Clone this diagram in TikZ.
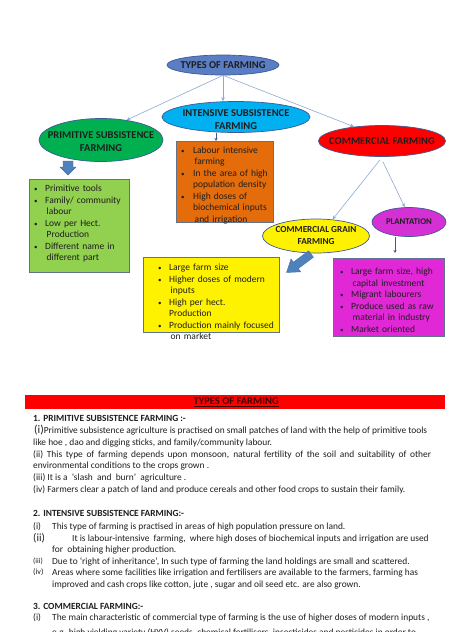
\documentclass[tikz,border=0pt]{standalone}
\usepackage{fontspec}
\setmainfont{Carlito}
\usetikzlibrary{shapes.geometric,arrows.meta}
\definecolor{typesblue}{RGB}{91,125,196}
\definecolor{cyanint}{RGB}{0,176,240}
\definecolor{primgreen}{RGB}{0,176,80}
\definecolor{lightgreen}{RGB}{146,208,80}
\definecolor{orangebox}{RGB}{228,108,10}
\definecolor{magentabox}{RGB}{224,40,214}
\definecolor{plantmag}{RGB}{212,48,212}
\definecolor{edgeblue}{RGB}{60,90,150}
\definecolor{boxedge}{RGB}{95,115,145}
\definecolor{linkblue}{RGB}{140,170,210}
\definecolor{arrowblue}{RGB}{79,129,189}
\definecolor{darktext}{RGB}{30,30,30}
\definecolor{bartext}{RGB}{60,0,0}
\newlength\bulind
\setlength\bulind{12pt}
\newcommand\bul[1]{\par\noindent\hangindent=\bulind\hangafter=1\makebox[\bulind][l]{\hspace*{1pt}{\fontsize{7}{7}\selectfont\textbullet}}#1}
\newcommand\cont{\newline\hspace*{1.5pt}}
\begin{document}
\begin{tikzpicture}[x=1pt,y=-1pt,
  ell/.style={ellipse, draw=edgeblue, line width=0.7pt, inner sep=0pt},
  elltext/.style={align=center, inner sep=0pt, text=darktext, font=\bfseries\fontsize{10.5}{13}\selectfont},
  boxshape/.style={draw=boxedge, line width=0.8pt, anchor=north west, inner sep=0pt},
  btext/.style={anchor=north west, inner sep=0pt, align=left, text=darktext, font=\fontsize{9.5}{11.5}\selectfont},
  link/.style={draw=linkblue, line width=0.6pt, -{Stealth[length=4pt,width=3.5pt]}},
  smalllink/.style={draw=edgeblue, line width=1pt, -{Stealth[length=3pt,width=3pt]}},
  blockarrow/.style={fill=arrowblue, draw=arrowblue!85!black, line width=0.4pt},
  body/.style={anchor=base west, inner sep=0pt, text=darktext, font=\fontsize{9.4}{11}\selectfont},
]
\useasboundingbox (0,0) rectangle (474,632);
\fill[white] (0,0) rectangle (474,632);

% ---------- ellipses ----------
\node[ell, fill=typesblue, minimum width=112pt, minimum height=20pt] (types) at (223,65) {};
\node[elltext] (typest) at (types.center) {TYPES OF FARMING};
\node[ell, fill=cyanint, minimum width=148pt, minimum height=31pt] (int) at (236,117) {};
\node[elltext] (intt) at ([yshift=-3pt]int.center) {INTENSIVE SUBSISTENCE\\FARMING};
\node[ell, fill=primgreen, minimum width=124pt, minimum height=43pt] (prim) at (101,140) {};
\node[elltext] (primt) at ([yshift=-1.5pt]prim.center) {PRIMITIVE SUBSISTENCE\\FARMING};
\node[ell, fill=red, minimum width=127pt, minimum height=31pt] (comm) at (382,141) {};
\node[elltext] (commt) at (comm.center) {COMMERCIAL FARMING};
\node[ell, fill=yellow, minimum width=107pt, minimum height=34pt] (grain) at (316,236) {};
\node[elltext, font=\bfseries\fontsize{9.2}{12}\selectfont] (graint) at (grain.center) {COMMERCIAL GRAIN\\FARMING};
\node[ell, fill=plantmag, minimum width=74pt, minimum height=29pt] (plant) at (409,222) {};
\node[elltext, font=\bfseries\fontsize{8.7}{10}\selectfont] (plantt) at (plant.center) {PLANTATION};

% ---------- boxes ----------
\node[boxshape, fill=lightgreen, minimum width=100pt, minimum height=93pt] (pbox) at (29,179) {};
\node[btext, text width=96pt] (ptext) at (33,180)
  {\bul{Primitive tools}\bul{Family/ community\cont labour}\bul{Low per Hect.\cont Production}\bul{Different name in\cont different part}\par};

\node[boxshape, fill=orangebox, minimum width=97pt, minimum height=81pt] (obox) at (176,141) {};
\node[btext, text width=94pt] (otext) at (180,141.5)
  {\setlength\bulind{13pt}\bul{Labour intensive\cont farming}\bul{In the area of high\newline population density}\bul{High doses of\newline biochemical inputs\cont and irrigation}\par};

\node[boxshape, fill=yellow, minimum width=136pt, minimum height=75pt] (ybox) at (143,257) {};
\node[btext, text width=132pt] (ytext) at (157,259)
  {\bul{Large farm size}\bul{Higher doses of modern\cont inputs}\bul{High per hect.\newline Production}\bul{Production mainly focused\cont on market}\par};

\node[boxshape, fill=magentabox, minimum width=111pt, minimum height=78pt] (mbox) at (333,258) {};
\node[btext, text width=108pt] (mtext) at (339,263)
  {\bul{Large farm size, high\cont capital investment}\bul{Migrant labourers}\bul{Produce used as raw\cont material in industry}\bul{Market oriented}\par};

% ---------- connectors ----------
\draw[link] (types.south) -- (prim.38);
\draw[link] (types.south) -- (types.south |- int.north);
\draw[link] (types.south) -- (comm.153);
\draw[link] ([xshift=-2pt,yshift=-3pt]comm.south) -- (grain.45);
\draw[link] ([xshift=1pt,yshift=-5pt]comm.south) -- (plant.106);

\coordinate (ix) at (216,0);
\coordinate (px) at (395,0);
\draw[smalllink] (int.south -| ix) -- (obox.north -| ix);
\draw[smalllink] (plant.south -| px) -- ([yshift=5pt]mbox.north -| px);

% ---------- block arrows ----------
\fill[blockarrow] (63,161) -- (73,161) -- (73,167) -- (76,167) -- (68,175) -- (60,167) -- (63,167) -- cycle;
\fill[blockarrow] (308.6,250.8) -- (293.4,262.2) -- (291.0,259.0) -- (286.5,272.5) -- (300.6,271.8) -- (298.2,268.6) -- (313.4,257.2) -- cycle;

% ---------- text section ----------
\node[fill=red, minimum width=420pt, minimum height=14pt, inner sep=0pt, anchor=north west] (bar) at (25,395) {};
\node[inner sep=0pt, text=bartext, font=\bfseries\fontsize{10.5}{11}\selectfont] (bart) at ([xshift=1pt]bar.center) {\underline{TYPES OF FARMING}};

\node[body] (s1h) at (33,421) {\textbf{1. PRIMITIVE SUBSISTENCE FARMING :-}};
\node[body] (s1a) at (34,433) {{\fontsize{11.5}{10}\selectfont(i)}Primitive subsistence agriculture is practised on small patches of land with the help of primitive tools};
\node[body] (s1b) at (33,445) {like hoe , dao and digging sticks, and family/community labour.};
\node[body] (s1c) at (33,457) {\makebox[398pt][s]{(ii) This type of farming depends upon monsoon, natural fertility of the soil and suitability of other}};
\node[body] (s1d) at (33,468) {environmental conditions to the crops grown .};
\node[body] (s1e) at (33,480) {(iii) It is a~ ‘slash~ and~ burn’~ agriculture .};
\node[body] (s1f) at (33,492) {(iv) Farmers clear a patch of land and produce cereals and other food crops to sustain their family.};

\node[body] (s2h) at (33,516) {\textbf{2. INTENSIVE SUBSISTENCE FARMING:-}};
\node[body] (s2an) at (33,529) {(i)};
\node[body] (s2a) at (52,529) {This type of farming is practised in areas of high population pressure on land.};
\node[body, font=\fontsize{11}{11}\selectfont] (s2bn) at (33,541) {(ii)};
\node[body] (s2b) at (72,541) {It is labour-intensive~ farming,~ where high doses of biochemical inputs and irrigation are used};
\node[body] (s2c) at (52,552) {for~ obtaining higher production.};
\node[body, font=\fontsize{7.5}{8}\selectfont] (s2dn) at (33,563) {(iii)};
\node[body] (s2d) at (52,564) {Due to ‘right of inheritance’, In such type of farming the land holdings are small and scattered.};
\node[body, font=\fontsize{8}{8}\selectfont] (s2en) at (33,574) {(iv)};
\node[body] (s2e) at (52,575) {Areas where some facilities like irrigation and fertilisers are available to the farmers, farming has};
\node[body] (s2f) at (52,587) {improved and cash crops like cotton, jute , sugar and oil seed etc. are also grown.};

\node[body] (s3h) at (33,609) {\textbf{3. COMMERCIAL FARMING:-}};
\node[body] (s3an) at (33,620) {(i)};
\node[body] (s3a) at (52,620) {The main characteristic of commercial type of farming is the use of higher doses of modern inputs ,};
\node[body] (s3b) at (52,635) {e.g. high yielding variety (HYV) seeds, chemical fertilisers, insecticides and pesticides in order to};
\end{tikzpicture}
\end{document}
